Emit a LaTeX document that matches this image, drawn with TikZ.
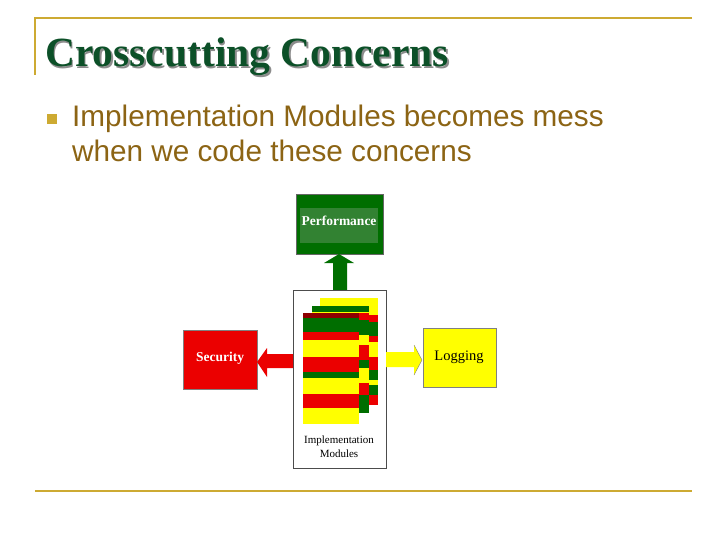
\documentclass[tikz,border=0pt]{standalone}
\usepackage{fontspec}
\setmainfont{Liberation Serif}
\setsansfont{Liberation Sans}
\begin{document}
\begin{tikzpicture}[x=1pt,y=-1pt]
\definecolor{gold}{RGB}{205,170,50}
\definecolor{titlegreen}{RGB}{12,80,40}
\definecolor{bodytxt}{RGB}{140,100,20}
\definecolor{dgreen}{RGB}{0,110,0}
\definecolor{lgreen}{RGB}{50,130,50}
\definecolor{myred}{RGB}{235,0,0}
\definecolor{myyellow}{RGB}{255,255,0}
\tikzset{lbl/.style={font=\fontsize{13.5}{14}\selectfont\bfseries, inner sep=0pt}}
\fill[white] (0,0) rectangle (728,546);
\useasboundingbox (0,0) rectangle (728,546);
% frame lines
\draw[gold, line width=1.2pt] (692,18) -- (35,18) -- (35,75);
\draw[gold, line width=1.2pt] (35,491) -- (692,491);
% title
\node[anchor=west, text=black!45, inner sep=0pt, font=\fontsize{41.5}{42}\selectfont\bfseries] at (46.5,58.5) {Crosscutting Concerns};
\node[anchor=west, text=titlegreen, inner sep=0pt, font=\fontsize{41.5}{42}\selectfont\bfseries] (title) at (45,57) {Crosscutting Concerns};
% bullet
\fill[gold] (47,114) rectangle (57,124);
\node[anchor=north west, text=bodytxt, inner sep=0pt, align=left, font=\sffamily\fontsize{29.7}{35}\selectfont] (body) at (72,105) {Implementation Modules becomes mess\\when we code these concerns};
% performance
\node[draw=black!60, fill=dgreen, minimum width=87pt, minimum height=60pt, inner sep=0pt] (perf) at (339.5,224) {};
\fill[lgreen] (300,208) rectangle (378,243);
\node[lbl, text=white] at (339,221) {Performance};
% up arrow
\fill[dgreen] (333,290) -- (333,263) -- (324,263) -- (339,254) -- (354,263) -- (347,263) -- (347,290) -- cycle;
% module box
\node[draw=black!70, fill=white, minimum width=93pt, minimum height=178pt, inner sep=0pt] (mod) at (339.5,379) {};
% back page
\fill[myyellow] (320,298) rectangle (378,405);
\foreach \a/\b/\c in {315/322/myred, 322/340/dgreen, 357/370/myred, 370/380/dgreen, 385/395/dgreen, 395/405/myred}{\fill[\c] (369,\a) rectangle (378,\b);}
\fill[myred] (359,336) rectangle (378,342);
% middle page
\fill[myyellow] (312,306) rectangle (369,413);
\fill[dgreen] (312,306) rectangle (369,312);
\foreach \a/\b/\c in {313/320/myred, 320/335/dgreen, 345/360/myred, 360/368/dgreen, 383/395/myred, 395/413/dgreen}{\fill[\c] (359,\a) rectangle (369,\b);}
% front page
\foreach \a/\b/\c in {313/318/myred!60!black, 318/332/dgreen, 332/340/myred, 340/357/myyellow, 357/372/myred, 372/378/dgreen, 378/394/myyellow, 394/408/myred, 408/424/myyellow}{\fill[\c] (303,\a) rectangle (359,\b);}
\node[font=\fontsize{11}{14}\selectfont, align=center, inner sep=0pt] at (339,447) {Implementation\\Modules};
% security
\node[draw=black!50, fill=myred, minimum width=74pt, minimum height=59pt, inner sep=0pt] (sec) at (220,359.5) {};
\node[lbl, text=white] at (220,358) {Security};
\fill[myred] (293,354) -- (267,354) -- (267,348) -- (257,362) -- (267,377) -- (267,368) -- (293,368) -- cycle;
% logging
\node[draw=black!50, fill=myyellow, minimum width=73pt, minimum height=59pt, inner sep=0pt] (log) at (459.5,357.5) {};
\node[inner sep=0pt, font=\fontsize{14.5}{15}\selectfont, text=black] at (459,357) {Logging};
\fill[myyellow] (386,352) -- (414,352) -- (414,345) -- (422,360) -- (414,375) -- (414,367) -- (386,367) -- cycle;
\draw[black!50, line width=0.4pt] (414,345) -- (422,360) -- (414,375);
\end{tikzpicture}
\end{document}
